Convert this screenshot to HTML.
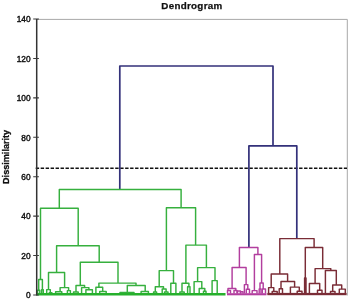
<!DOCTYPE html>
<html><head><meta charset="utf-8"><title>Dendrogram</title>
<style>html,body{margin:0;padding:0;background:#fff;width:349px;height:299px;overflow:hidden}svg{display:block}</style>
</head><body>
<svg width="349" height="299" viewBox="0 0 349 299">
<path d="M36.5 19.4H347.3V295.5" stroke="#a8a8a8" stroke-width="1" fill="none"/>
<path d="M35.7 168.3H347" stroke="#111" stroke-width="1.4" stroke-dasharray="3.4 1.57" fill="none"/>
<path d="M119.8 189.5V66.0H273.0V145.9" stroke="#33317a" stroke-width="1.7" fill="none" stroke-linejoin="round"/>
<path d="M248.9 247.5V145.9H296.8V238.6" stroke="#33317a" stroke-width="1.7" fill="none" stroke-linejoin="round"/>
<path d="M59.3 208.3V189.5H181.1V207.7" stroke="#36b03e" stroke-width="1.45" fill="none" stroke-linejoin="round"/>
<path d="M40.5 279.5V208.3H78.2V245.8" stroke="#36b03e" stroke-width="1.45" fill="none" stroke-linejoin="round"/>
<path d="M38.7 290.2V279.5H42.4V289.8" stroke="#36b03e" stroke-width="1.45" fill="none" stroke-linejoin="round"/>
<path d="M37.6 293.5V290.2H39.8V293.5" stroke="#36b03e" stroke-width="1.45" fill="none" stroke-linejoin="round"/>
<path d="M41.6 293.5V289.8H43.3V293.5" stroke="#36b03e" stroke-width="1.45" fill="none" stroke-linejoin="round"/>
<path d="M56.6 272.4V245.8H99.2V262.3" stroke="#36b03e" stroke-width="1.45" fill="none" stroke-linejoin="round"/>
<path d="M48.5 289.6V272.4H64.6V287.6" stroke="#36b03e" stroke-width="1.45" fill="none" stroke-linejoin="round"/>
<path d="M46.7 293.5V289.6H50.3V292.6" stroke="#36b03e" stroke-width="1.45" fill="none" stroke-linejoin="round"/>
<path d="M49.3 293.5V292.6H51.9V293.5" stroke="#36b03e" stroke-width="1.45" fill="none" stroke-linejoin="round"/>
<path d="M60.1 291.8V287.6H68.6V290.6" stroke="#36b03e" stroke-width="1.45" fill="none" stroke-linejoin="round"/>
<path d="M55.6 293.5V291.8H61.8V293.5" stroke="#36b03e" stroke-width="1.45" fill="none" stroke-linejoin="round"/>
<path d="M67.4 293.5V290.6H70.4V293.5" stroke="#36b03e" stroke-width="1.45" fill="none" stroke-linejoin="round"/>
<path d="M80.3 285.5V262.3H118.0V283.1" stroke="#36b03e" stroke-width="1.45" fill="none" stroke-linejoin="round"/>
<path d="M76.0 292.0V285.5H84.6V287.6" stroke="#36b03e" stroke-width="1.45" fill="none" stroke-linejoin="round"/>
<path d="M73.5 293.5V292.0H78.2V293.5" stroke="#36b03e" stroke-width="1.45" fill="none" stroke-linejoin="round"/>
<path d="M81.6 293.5V287.6H88.9V289.8" stroke="#36b03e" stroke-width="1.45" fill="none" stroke-linejoin="round"/>
<path d="M85.9 293.5V289.8H92.4V293.5" stroke="#36b03e" stroke-width="1.45" fill="none" stroke-linejoin="round"/>
<path d="M98.9 287.2V283.1H136.0V285.5" stroke="#36b03e" stroke-width="1.45" fill="none" stroke-linejoin="round"/>
<path d="M95.9 293.5V287.2H102.7V291.5" stroke="#36b03e" stroke-width="1.45" fill="none" stroke-linejoin="round"/>
<path d="M99.7 293.5V291.5H106.2V293.5" stroke="#36b03e" stroke-width="1.45" fill="none" stroke-linejoin="round"/>
<path d="M127.3 292.4V285.5H145.2V291.5" stroke="#36b03e" stroke-width="1.45" fill="none" stroke-linejoin="round"/>
<path d="M120.0 293.5V292.4H134.0V293.5" stroke="#36b03e" stroke-width="1.45" fill="none" stroke-linejoin="round"/>
<path d="M141.1 293.5V291.5H148.4V293.5" stroke="#36b03e" stroke-width="1.45" fill="none" stroke-linejoin="round"/>
<path d="M166.4 270.6V207.7H195.6V245.1" stroke="#36b03e" stroke-width="1.45" fill="none" stroke-linejoin="round"/>
<path d="M159.2 286.7V270.6H173.5V283.3" stroke="#36b03e" stroke-width="1.45" fill="none" stroke-linejoin="round"/>
<path d="M155.3 291.9V286.7H163.5V288.9" stroke="#36b03e" stroke-width="1.45" fill="none" stroke-linejoin="round"/>
<path d="M153.6 293.5V291.9H156.6V293.5" stroke="#36b03e" stroke-width="1.45" fill="none" stroke-linejoin="round"/>
<path d="M162.2 293.5V288.9H166.1V291.9" stroke="#36b03e" stroke-width="1.45" fill="none" stroke-linejoin="round"/>
<path d="M164.5 293.5V291.9H168.0V293.5" stroke="#36b03e" stroke-width="1.45" fill="none" stroke-linejoin="round"/>
<path d="M170.8 293.5V283.3H175.9V293.5" stroke="#36b03e" stroke-width="1.45" fill="none" stroke-linejoin="round"/>
<path d="M185.9 283.3V245.1H206.4V267.6" stroke="#36b03e" stroke-width="1.45" fill="none" stroke-linejoin="round"/>
<path d="M182.0 291.9V283.3H188.9V286.7" stroke="#36b03e" stroke-width="1.45" fill="none" stroke-linejoin="round"/>
<path d="M179.9 293.5V291.9H184.2V293.5" stroke="#36b03e" stroke-width="1.45" fill="none" stroke-linejoin="round"/>
<path d="M187.6 293.5V286.7H190.0V293.5" stroke="#36b03e" stroke-width="1.45" fill="none" stroke-linejoin="round"/>
<path d="M197.6 281.6V267.6H215.0V280.6" stroke="#36b03e" stroke-width="1.45" fill="none" stroke-linejoin="round"/>
<path d="M194.1 293.5V281.6H201.8V288.5" stroke="#36b03e" stroke-width="1.45" fill="none" stroke-linejoin="round"/>
<path d="M199.2 293.5V288.5H204.8V291.2" stroke="#36b03e" stroke-width="1.45" fill="none" stroke-linejoin="round"/>
<path d="M203.5 293.5V291.2H206.0V293.5" stroke="#36b03e" stroke-width="1.45" fill="none" stroke-linejoin="round"/>
<path d="M212.1 293.5V280.6H217.2V293.5" stroke="#36b03e" stroke-width="1.45" fill="none" stroke-linejoin="round"/>
<path d="M239.4 267.4V247.5H257.9V254.4" stroke="#b23e9e" stroke-width="1.45" fill="none" stroke-linejoin="round"/>
<path d="M232.1 288.5V267.4H246.1V284.6" stroke="#b23e9e" stroke-width="1.45" fill="none" stroke-linejoin="round"/>
<path d="M228.0 290.5V288.5H235.8V290.5" stroke="#b23e9e" stroke-width="1.45" fill="none" stroke-linejoin="round"/>
<path d="M227.5 293.5V290.5H230.5V293.5" stroke="#b23e9e" stroke-width="1.45" fill="none" stroke-linejoin="round"/>
<path d="M234.0 293.5V290.5H237.0V293.5" stroke="#b23e9e" stroke-width="1.45" fill="none" stroke-linejoin="round"/>
<path d="M237.5 293.5V291.0H240.5V293.5" stroke="#b23e9e" stroke-width="1.45" fill="none" stroke-linejoin="round"/>
<path d="M240.5 293.5V291.8H243.0V293.5" stroke="#b23e9e" stroke-width="1.45" fill="none" stroke-linejoin="round"/>
<path d="M244.4 293.5V284.6H247.8V289.3" stroke="#b23e9e" stroke-width="1.45" fill="none" stroke-linejoin="round"/>
<path d="M246.3 293.5V289.3H249.5V293.5" stroke="#b23e9e" stroke-width="1.45" fill="none" stroke-linejoin="round"/>
<path d="M254.4 290.6V254.4H261.6V282.9" stroke="#b23e9e" stroke-width="1.45" fill="none" stroke-linejoin="round"/>
<path d="M252.2 293.5V290.6H257.0V293.5" stroke="#b23e9e" stroke-width="1.45" fill="none" stroke-linejoin="round"/>
<path d="M260.0 289.0V282.9H263.2V289.0" stroke="#b23e9e" stroke-width="1.45" fill="none" stroke-linejoin="round"/>
<path d="M259.2 293.5V289.0H261.0V293.5" stroke="#b23e9e" stroke-width="1.45" fill="none" stroke-linejoin="round"/>
<path d="M262.3 293.5V289.0H265.5V293.5" stroke="#b23e9e" stroke-width="1.45" fill="none" stroke-linejoin="round"/>
<path d="M279.8 273.9V238.6H314.1V247.5" stroke="#7a2c36" stroke-width="1.45" fill="none" stroke-linejoin="round"/>
<path d="M271.2 287.6V273.9H287.6V281.4" stroke="#7a2c36" stroke-width="1.45" fill="none" stroke-linejoin="round"/>
<path d="M268.6 293.5V287.6H273.8V291.5" stroke="#7a2c36" stroke-width="1.45" fill="none" stroke-linejoin="round"/>
<path d="M272.2 293.5V291.5H277.2V293.5" stroke="#7a2c36" stroke-width="1.45" fill="none" stroke-linejoin="round"/>
<path d="M281.0 288.7V281.4H294.6V287.1" stroke="#7a2c36" stroke-width="1.45" fill="none" stroke-linejoin="round"/>
<path d="M279.2 293.5V288.7H282.5V293.5" stroke="#7a2c36" stroke-width="1.45" fill="none" stroke-linejoin="round"/>
<path d="M290.4 293.5V287.1H299.3V291.2" stroke="#7a2c36" stroke-width="1.45" fill="none" stroke-linejoin="round"/>
<path d="M297.2 293.5V291.2H302.0V293.5" stroke="#7a2c36" stroke-width="1.45" fill="none" stroke-linejoin="round"/>
<path d="M305.3 278.0V247.5H322.7V268.6" stroke="#7a2c36" stroke-width="1.45" fill="none" stroke-linejoin="round"/>
<path d="M304.6 293.5V278.0H306.0V293.5" stroke="#7a2c36" stroke-width="1.45" fill="none" stroke-linejoin="round"/>
<path d="M315.1 283.4V268.6H330.8V270.4" stroke="#7a2c36" stroke-width="1.45" fill="none" stroke-linejoin="round"/>
<path d="M309.4 293.5V283.4H319.7V290.3" stroke="#7a2c36" stroke-width="1.45" fill="none" stroke-linejoin="round"/>
<path d="M317.5 293.5V290.3H322.0V293.5" stroke="#7a2c36" stroke-width="1.45" fill="none" stroke-linejoin="round"/>
<path d="M325.4 293.5V270.4H336.3V284.9" stroke="#7a2c36" stroke-width="1.45" fill="none" stroke-linejoin="round"/>
<path d="M332.7 291.5V284.9H341.7V289.1" stroke="#7a2c36" stroke-width="1.45" fill="none" stroke-linejoin="round"/>
<path d="M330.5 293.5V291.5H335.0V293.5" stroke="#7a2c36" stroke-width="1.45" fill="none" stroke-linejoin="round"/>
<path d="M339.3 293.5V289.1H345.3V293.5" stroke="#7a2c36" stroke-width="1.45" fill="none" stroke-linejoin="round"/>
<rect x="36.5" y="293.0" width="189" height="2.5" fill="#26b02c"/>
<rect x="227" y="293.2" width="39.5" height="2.1" fill="#b23e9e"/>
<rect x="267.3" y="292.9" width="79.3" height="2.3" fill="#7a2c36"/>
<path d="M36.7 19V295.5" stroke="#333" stroke-width="1.5" fill="none"/>
<path d="M33.2 295.00H38.9M33.2 255.57H38.9M33.2 216.14H38.9M33.2 176.71H38.9M33.2 137.29H38.9M33.2 97.86H38.9M33.2 58.43H38.9M33.2 19.00H38.9" stroke="#3a3a3a" stroke-width="1.1" fill="none"/>
<g font-family="Liberation Sans, sans-serif" font-size="8.3" text-anchor="end" fill="#111" stroke="#111" stroke-width="0.4"><text x="30.6" y="298.25">0</text><text x="30.6" y="258.82">20</text><text x="30.6" y="219.39">40</text><text x="30.6" y="179.96">60</text><text x="30.6" y="140.54">80</text><text x="30.6" y="101.11">100</text><text x="30.6" y="61.68">120</text><text x="30.6" y="22.25">140</text></g>
<text x="191.9" y="9.3" font-family="Liberation Sans, sans-serif" font-size="9.8" font-weight="bold" letter-spacing="0.3" text-anchor="middle" fill="#111" stroke="#111" stroke-width="0.25">Dendrogram</text>
<text transform="translate(8.6 156.9) rotate(-90)" font-family="Liberation Sans, sans-serif" font-size="9.1" font-weight="bold" text-anchor="middle" fill="#111" stroke="#111" stroke-width="0.3">Dissimilarity</text>
</svg>
</body></html>
